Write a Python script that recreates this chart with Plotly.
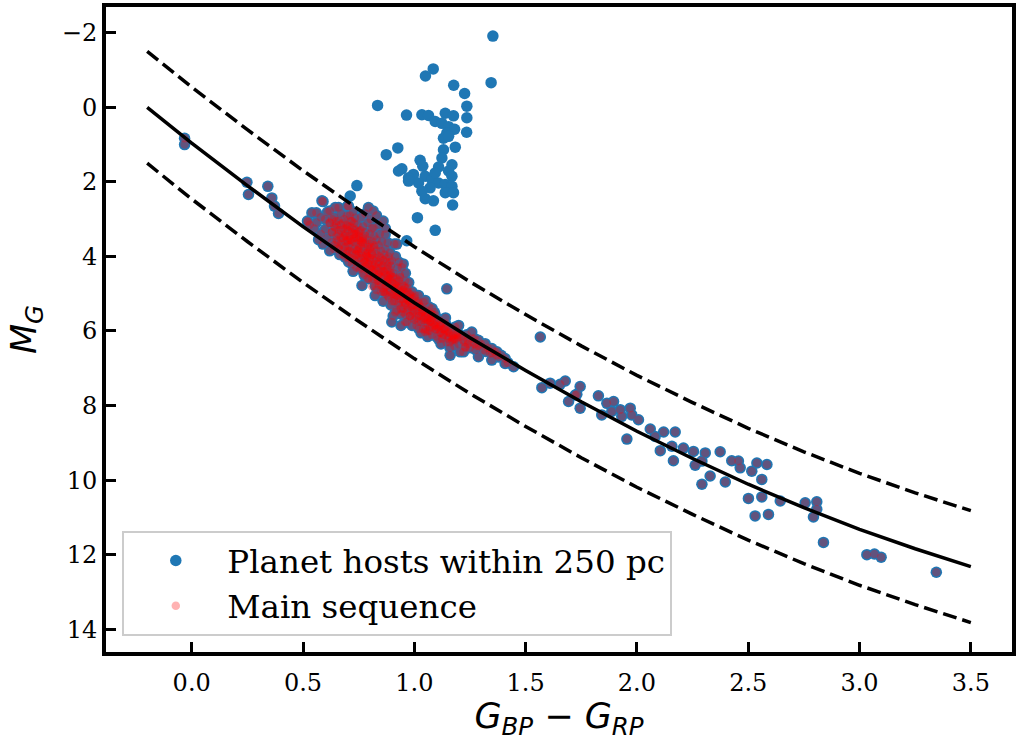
import plotly.graph_objects as go

# ---- data ----
# Solid relation and the +/-1.5 mag band (dashed)
curve_x = [-0.2, 0.0, 0.25, 0.5, 0.75, 1.0, 1.25, 1.5, 1.75, 2.0, 2.25, 2.5, 2.75, 3.0, 3.25, 3.5]
curve_y = [0.0, 0.96, 2.10, 3.20, 4.24, 5.24, 6.18, 7.06, 7.90, 8.69, 9.42, 10.11, 10.74, 11.32, 11.84, 12.32]
upper_y = [-1.5, -0.54, 0.60, 1.70, 2.74, 3.74, 4.68, 5.56, 6.40, 7.19, 7.92, 8.61, 9.24, 9.82, 10.34, 10.82]
lower_y = [1.5, 2.46, 3.60, 4.70, 5.74, 6.74, 7.68, 8.56, 9.40, 10.19, 10.92, 11.61, 12.24, 12.82, 13.34, 13.82]

# Planet hosts outside the main-sequence band (giants / subgiants)
giant_x = [1.353, 1.085, 1.050, 1.177, 1.345, 1.226, 0.835, 1.236, 0.965, 1.034, 1.064, 1.139,
           1.176, 1.236, 1.094, 1.124, 1.154, 1.181, 1.235, 1.146, 1.131, 1.154, 1.184, 1.131,
           0.926, 0.874, 1.124, 1.026, 1.169, 1.038, 1.109, 0.944, 0.929, 1.154, 0.996, 0.974,
           1.169, 1.049, 1.079, 1.109, 1.139, 1.019, 1.169, 1.071, 1.034, 1.139, 1.176, 1.049,
           1.086, 1.172, 1.014, 1.094, 0.974, 1.094, 0.742, 0.712, 0.966]
giant_y = [-1.91, -1.03, -0.84, -0.59, -0.66, -0.37, -0.05, -0.03, 0.21, 0.20, 0.22, 0.16,
           0.23, 0.28, 0.38, 0.43, 0.52, 0.59, 0.67, 0.69, 0.83, 0.78, 1.07, 1.14,
           1.09, 1.27, 1.36, 1.42, 1.54, 1.58, 1.60, 1.65, 1.71, 1.71, 1.80, 1.89,
           1.85, 1.85, 1.94, 2.03, 2.07, 2.03, 2.12, 2.16, 2.25, 2.29, 2.29, 2.45,
           2.51, 2.62, 2.96, 3.30, 1.98, 1.76, 2.10, 2.38, 3.58]

# Planet hosts on the main sequence (inside the band)
ms_x = [
    -0.032, -0.032, 0.248, 0.255, 0.342, 0.360, 0.372, 0.390, 0.522,
    0.52, 0.54, 0.56, 0.56, 0.585, 0.59, 0.60, 0.58, 0.55, 0.57, 0.59, 0.53, 0.60, 0.58,
    0.61, 0.62, 0.645, 0.645, 0.66, 0.66, 0.69, 0.70, 0.697, 0.61, 0.62, 0.63, 0.63, 0.64,
    0.64, 0.65, 0.65, 0.655, 0.66, 0.665, 0.67, 0.67, 0.67, 0.675, 0.68, 0.68, 0.685, 0.69,
    0.69, 0.695, 0.695, 0.62,
    0.704, 0.71, 0.71, 0.71, 0.71, 0.71, 0.715, 0.72, 0.72, 0.72, 0.72, 0.725, 0.73, 0.73,
    0.73, 0.73, 0.734, 0.735, 0.74, 0.74, 0.74, 0.745, 0.75, 0.75, 0.75, 0.755, 0.755, 0.76,
    0.76, 0.76, 0.765, 0.765, 0.77, 0.77, 0.77, 0.775, 0.775, 0.78, 0.78, 0.78, 0.785, 0.785,
    0.79, 0.79, 0.794, 0.795, 0.795, 0.80, 0.80, 0.80, 0.70, 0.70, 0.70, 0.705, 0.725,
    0.805, 0.81, 0.81, 0.81, 0.81, 0.81, 0.815, 0.817, 0.82, 0.82, 0.82, 0.82, 0.824, 0.825,
    0.83, 0.83, 0.83, 0.83, 0.835, 0.84, 0.84, 0.84, 0.84, 0.845, 0.85, 0.85, 0.85, 0.85,
    0.855, 0.86, 0.86, 0.86, 0.865, 0.865, 0.869, 0.87, 0.87, 0.875, 0.875, 0.88, 0.88, 0.88,
    0.885, 0.885, 0.89, 0.89, 0.89, 0.895, 0.895, 0.899, 0.90, 0.90, 0.899, 0.86, 0.87,
    0.905, 0.91, 0.91, 0.91, 0.915, 0.92, 0.92, 0.92, 0.921, 0.925, 0.93, 0.93, 0.935, 0.937,
    0.94, 0.94, 0.944, 0.945, 0.95, 0.95, 0.955, 0.959, 0.959, 0.96, 0.965, 0.966, 0.97, 0.97,
    0.975, 0.98, 0.98, 0.985, 0.99, 0.99, 0.995, 1.00, 1.00, 0.96, 0.93, 0.94, 0.915, 0.975,
    0.905, 0.99, 0.95,
    1.004, 1.01, 1.01, 1.015, 1.019, 1.02, 1.02, 1.025, 1.03, 1.035, 1.041, 1.04, 1.045, 1.049,
    1.049, 1.05, 1.055, 1.06, 1.06, 1.065, 1.07, 1.07, 1.075, 1.08, 1.08, 1.085, 1.09, 1.094,
    1.095, 1.10, 1.10, 1.03, 1.06, 1.02, 1.08,
    1.105, 1.109, 1.11, 1.115, 1.12, 1.125, 1.13, 1.135, 1.14, 1.145, 1.15, 1.155, 1.161, 1.165,
    1.17, 1.175, 1.18, 1.184, 1.19, 1.195, 1.199, 1.20, 1.12, 1.16, 1.14,
    1.206, 1.21, 1.221, 1.225, 1.229, 1.235, 1.24, 1.25, 1.258, 1.26, 1.27, 1.275, 1.288, 1.288,
    1.29, 1.30,
    1.318, 1.32, 1.33, 1.348, 1.348, 1.35, 1.36, 1.371, 1.38, 1.39, 1.408, 1.408, 1.42, 1.446,
    1.146, 1.566,
    1.573, 1.610, 1.655, 1.678, 1.693, 1.730, 1.745, 1.745, 1.723, 1.827, 1.842, 1.865, 1.895,
    1.887, 1.925, 1.932, 1.970, 1.977, 1.955, 2.007, 2.060, 2.082, 2.120, 2.172, 2.105, 2.157,
    2.164, 2.209, 2.254, 2.262, 2.307, 2.292, 2.329, 2.292, 2.374, 2.397, 2.426, 2.456, 2.464,
    2.516, 2.539, 2.561, 2.584, 2.501, 2.561, 2.531, 2.591, 2.644, 2.756, 2.808, 2.808, 2.793,
    2.838, 3.033, 3.067, 3.097, 3.345,
]
ms_y = [
    0.83, 1.00, 2.01, 2.34, 2.12, 2.43, 2.65, 2.85, 3.08,
    3.05, 2.83, 3.09, 2.83, 2.51, 2.53, 3.27, 3.40, 3.25, 3.55, 3.67, 3.15, 3.00, 2.95,
    2.81, 2.78, 2.69, 3.23, 2.69, 3.76, 4.03, 2.65, 2.91, 3.50, 3.10, 3.35, 3.62, 2.95,
    3.80, 3.05, 3.45, 3.60, 3.30, 3.95, 2.85, 3.15, 3.50, 3.70, 3.25, 3.85, 3.00, 3.40,
    3.60, 3.15, 3.90, 3.85,
    2.65, 2.90, 3.20, 3.45, 3.75, 4.05, 3.05, 3.35, 3.60, 3.90, 4.20, 2.80, 3.10, 3.50,
    3.80, 4.10, 2.96, 3.30, 3.65, 3.95, 4.30, 3.15, 3.45, 3.75, 4.05, 3.31, 4.34, 2.95,
    3.60, 3.90, 4.20, 4.78, 3.20, 3.50, 3.80, 4.10, 4.50, 2.85, 3.35, 3.65, 3.95, 4.35,
    3.10, 3.55, 2.69, 4.20, 4.60, 3.40, 3.80, 4.05, 3.30, 3.55, 3.85, 4.15, 4.40,
    3.00, 3.25, 3.60, 3.90, 4.25, 4.60, 2.78, 3.23, 3.45, 3.75, 4.10, 4.45, 5.05, 4.80,
    2.90, 3.55, 3.95, 4.30, 4.65, 3.15, 3.70, 4.15, 4.50, 3.40, 3.85, 4.05, 4.40, 4.75,
    3.60, 3.05, 4.25, 4.60, 3.95, 4.95, 3.41, 3.80, 4.45, 4.15, 4.80, 3.63, 4.35, 4.65,
    4.00, 5.10, 3.90, 4.50, 4.90, 4.25, 5.30, 4.11, 4.70, 5.00, 5.76, 5.20, 3.25,
    4.45, 3.67, 4.85, 5.20, 4.00, 4.60, 5.05, 5.45, 3.67, 4.30, 4.80, 5.25, 4.50, 4.56,
    5.00, 5.55, 4.29, 4.75, 5.15, 5.40, 4.95, 4.65, 5.76, 5.25, 5.05, 5.76, 4.85, 5.45,
    5.20, 5.00, 5.60, 5.35, 4.95, 5.15, 5.50, 5.30, 5.70, 4.45, 4.15, 5.85, 5.50, 4.70,
    5.60, 5.85, 4.20,
    5.05, 5.45, 5.85, 5.20, 5.05, 5.60, 5.94, 5.35, 5.75, 5.50, 5.23, 5.95, 5.65, 5.18,
    6.03, 5.80, 5.45, 5.60, 6.00, 5.35, 5.75, 5.90, 5.55, 6.10, 5.65, 5.80, 5.50, 5.58,
    5.95, 5.75, 6.15, 6.05, 6.15, 5.25, 5.40,
    5.90, 6.22, 5.70, 6.05, 5.85, 6.20, 5.95, 6.10, 5.80, 6.30, 6.00, 6.15, 6.65, 5.95,
    6.25, 6.10, 6.40, 5.89, 6.20, 6.05, 5.85, 6.35, 6.35, 6.45, 5.65,
    6.56, 6.15, 6.56, 6.30, 6.43, 6.10, 6.25, 6.45, 6.03, 6.30, 6.20, 6.50, 6.25, 6.69,
    6.40, 6.35,
    6.34, 6.55, 6.45, 6.47, 6.78, 6.60, 6.55, 6.56, 6.70, 6.65, 6.74, 6.87, 6.85, 6.96,
    4.87, 6.16,
    7.52, 7.40, 7.43, 7.34, 7.89, 7.70, 7.49, 8.07, 7.72, 7.74, 8.25, 7.94, 7.89,
    8.16, 8.11, 8.29, 8.07, 8.25, 8.90, 8.38, 8.63, 8.83, 8.71, 8.71, 9.21, 9.09,
    9.48, 9.14, 9.23, 9.60, 9.27, 9.49, 9.89, 10.11, 9.24, 10.05, 9.48, 9.49, 9.67,
    9.76, 9.54, 9.98, 9.58, 10.49, 10.45, 10.96, 10.92, 10.56, 10.61, 10.58, 10.78, 10.99,
    11.67, 12.00, 11.98, 12.07, 12.47,
]

# Additional main-sequence entries (further planets in multi-planet systems),
# concentrated in the crowded core of the main sequence
multi_x = [
    0.62, 0.63, 0.64, 0.65, 0.66, 0.67, 0.68, 0.69, 0.70, 0.71, 0.63, 0.65, 0.67, 0.69, 0.71,
    0.64, 0.66, 0.68, 0.70, 0.72, 0.66, 0.68, 0.70, 0.72, 0.74,
    0.72, 0.73, 0.74, 0.75, 0.76, 0.77, 0.78, 0.79, 0.80, 0.81, 0.73, 0.75, 0.77, 0.79, 0.81,
    0.74, 0.76, 0.78, 0.80, 0.82, 0.73, 0.75, 0.77, 0.79, 0.81, 0.76, 0.78, 0.80, 0.82, 0.84,
    0.74, 0.76, 0.78, 0.80, 0.82, 0.77, 0.79, 0.81, 0.83, 0.75, 0.79, 0.83,
    0.82, 0.83, 0.84, 0.85, 0.86, 0.87, 0.88, 0.89, 0.90, 0.83, 0.85, 0.87, 0.89, 0.91,
    0.84, 0.86, 0.88, 0.90, 0.92, 0.85, 0.87, 0.89, 0.91, 0.93, 0.86, 0.88, 0.90, 0.92, 0.94,
    0.84, 0.86, 0.88, 0.87, 0.89,
    0.92, 0.93, 0.94, 0.95, 0.96, 0.97, 0.98, 0.99, 0.93, 0.95, 0.97, 0.99, 0.94, 0.96, 0.98,
    1.00, 0.95, 0.97, 0.99, 0.91, 0.96, 0.98,
    1.00, 1.01, 1.02, 1.03, 1.04, 1.05, 1.06, 1.07, 1.08, 1.02, 1.04, 1.06, 1.08, 1.10,
    1.03, 1.05, 1.07, 1.09, 1.01, 1.05, 1.09,
    1.11, 1.12, 1.13, 1.14, 1.15, 1.16, 1.17, 1.18, 1.19, 1.12, 1.14, 1.16, 1.18, 1.20,
    1.22, 1.24, 1.26, 1.28, 1.23, 1.27, 1.31, 1.34, 1.37,
    0.685, 0.705, 0.725, 0.745, 0.765, 0.785, 0.805, 0.825, 0.845, 0.865, 0.885, 0.905, 0.925,
    0.945, 0.965, 0.695, 0.715, 0.735, 0.755, 0.775, 0.795, 0.815, 0.835, 0.855, 0.875, 0.895,
    0.915, 0.935, 0.955, 0.985, 1.015, 1.035, 1.055, 1.075, 1.095, 1.115, 1.135, 1.155, 1.175,
    1.195,
]
multi_y = [
    3.10, 3.35, 3.20, 3.55, 3.40, 3.65, 3.50, 3.75, 3.60, 3.85, 3.00, 3.15, 3.30, 3.45, 3.55,
    3.70, 3.80, 3.95, 4.00, 4.05, 3.05, 3.10, 3.20, 3.25, 3.40,
    3.05, 3.25, 3.50, 3.35, 3.70, 3.55, 3.90, 3.75, 4.10, 3.95, 3.60, 3.80, 4.00, 4.20, 4.35,
    3.85, 4.05, 4.25, 4.45, 4.60, 3.40, 3.55, 3.65, 3.85, 4.05, 4.30, 4.15, 4.30, 4.25, 4.45,
    4.15, 3.30, 3.45, 3.65, 3.70, 4.45, 4.60, 4.80, 4.55, 3.95, 4.00, 3.85,
    4.40, 4.05, 4.65, 4.30, 4.85, 4.50, 4.70, 4.95, 4.80, 4.90, 4.55, 5.00, 4.60, 4.75,
    4.20, 4.40, 4.25, 4.55, 4.90, 4.95, 4.80, 4.35, 5.10, 4.65, 4.10, 4.55, 5.20, 5.05, 5.15,
    4.75, 4.95, 5.05, 4.05, 4.15,
    4.70, 5.30, 4.95, 5.20, 4.85, 5.35, 5.10, 5.45, 5.05, 4.90, 5.15, 5.30, 5.40, 5.55, 5.60,
    5.10, 5.50, 4.95, 5.65, 5.00, 5.30, 5.25,
    5.45, 5.25, 5.55, 5.35, 5.70, 5.50, 5.80, 5.65, 5.90, 5.75, 5.45, 5.70, 5.55, 5.95,
    5.60, 5.95, 6.00, 5.70, 5.65, 5.60, 5.85,
    5.95, 5.80, 6.10, 5.90, 6.20, 6.05, 6.15, 6.25, 6.10, 6.05, 6.00, 6.30, 6.20, 6.15,
    6.25, 6.35, 6.20, 6.40, 6.45, 6.35, 6.50, 6.60, 6.65,
    3.45, 3.70, 3.40, 3.85, 3.60, 4.00, 3.75, 4.20, 4.00, 4.40, 4.60, 4.55, 4.85,
    5.00, 5.15, 3.25, 3.55, 3.95, 3.50, 4.15, 3.90, 4.35, 4.50, 4.25, 4.70, 4.45,
    4.75, 4.95, 4.80, 5.05, 5.35, 5.50, 5.70, 5.75, 5.85, 5.85, 5.95, 6.05, 6.20,
    6.10,
]

host_x = giant_x + ms_x
host_y = giant_y + ms_y
ms_all_x = ms_x + multi_x
ms_all_y = ms_y + multi_y

x_ticks = [0.0, 0.5, 1.0, 1.5, 2.0, 2.5, 3.0, 3.5]
y_ticks = [-2, 0, 2, 4, 6, 8, 10, 12, 14]

BLUE = "#1f77b4"
SERIF = "DejaVu Serif"
MATH = "DejaVu Sans"

fig = go.Figure()
fig.add_trace(go.Scatter(
    x=host_x, y=host_y, mode="markers", name="Planet hosts within 250 pc",
    marker=dict(color=BLUE, size=11.5, line=dict(width=0)),
))
fig.add_trace(go.Scatter(
    x=ms_all_x, y=ms_all_y, mode="markers", name="Main sequence",
    marker=dict(color="rgba(255,0,0,0.3)", size=8.5, line=dict(width=0)),
))
fig.add_trace(go.Scatter(
    x=curve_x, y=curve_y, mode="lines", showlegend=False, hoverinfo="skip",
    line=dict(color="black", width=3.5),
))
for yy in (upper_y, lower_y):
    fig.add_trace(go.Scatter(
        x=curve_x, y=yy, mode="lines", showlegend=False, hoverinfo="skip",
        line=dict(color="black", width=3.5, dash="14px,6px"),
    ))

axis_common = dict(
    showgrid=False, zeroline=False, showline=True, linecolor="black", linewidth=4,
    mirror=True, ticks="inside", ticklen=10, tickwidth=2.5, tickcolor="black",
    tickfont=dict(family=SERIF, size=24, color="black"),
)

fig.update_layout(
    width=1019, height=741,
    margin=dict(l=106, r=4, t=3, b=89),
    paper_bgcolor="white", plot_bgcolor="white",
    xaxis=dict(
        range=[-0.385, 3.685], tickvals=x_ticks,
        ticktext=[f"{v:.1f}" for v in x_ticks],
        ticklabelstandoff=6,
        title=dict(text="<i>G</i><sub><i>BP</i></sub> − <i>G</i><sub><i>RP</i></sub>",
                   font=dict(family=MATH, size=35, color="black"), standoff=4),
        **axis_common,
    ),
    yaxis=dict(
        range=[14.61, -2.69], tickvals=y_ticks,
        ticktext=[("−" + str(-v)) if v < 0 else str(v) for v in y_ticks],
        title=dict(text="<i>M</i><sub><i>G</i></sub>",
                   font=dict(family=MATH, size=35, color="black"), standoff=16),
        **axis_common,
    ),
    legend=dict(
        x=0.018, y=0.025, xanchor="left", yanchor="bottom",
        bgcolor="rgba(255,255,255,0.85)", bordercolor="#cccccc", borderwidth=2,
        font=dict(family=SERIF, size=32.5, color="black"),
        itemwidth=93, tracegroupgap=0,
    ),
    showlegend=True,
)

fig.write_html("out.html")
